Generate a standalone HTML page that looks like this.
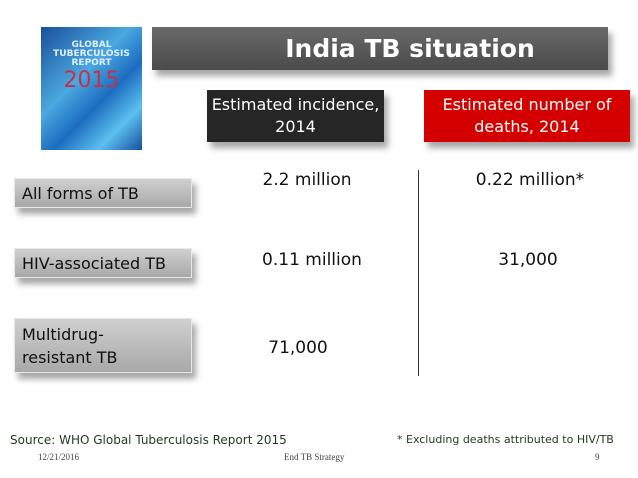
<!DOCTYPE html>
<html><head><meta charset="utf-8"><style>
body{margin:0;width:638px;height:478px;background:#fff;position:relative;overflow:hidden;font-family:"DejaVu Sans","Liberation Sans",sans-serif}
div{position:absolute;box-sizing:border-box}
.lbl{left:14px;width:178px;background:linear-gradient(#d0d0d0,#a8a8a8);border:1px solid #e8e8e8;box-shadow:4px 6px 6px rgba(0,0,0,.35);color:#111;font-size:16px;padding-left:7px;display:flex;align-items:center;line-height:23px}
.val{font-size:17px;color:#111;text-align:center;width:200px}
.ft{font-family:"Liberation Serif",serif;font-size:9px;color:#444;top:452px}
</style></head><body>
<div style="left:41px;top:27px;width:101px;height:123px;background:linear-gradient(135deg,#1a4f9a,#4aa8e0 40%,#1c6cc0 60%,#5bc0ef 80%,#1650a0);color:#dfefff;text-align:center;font-size:9px;line-height:9px;padding-top:14px;font-weight:bold">GLOBAL<br>TUBERCULOSIS<br>REPORT<div style="position:static;color:#c8304a;font-size:22px;line-height:26px;font-weight:normal">2015</div></div>
<div style="left:152px;top:27px;width:456px;height:43px;background:linear-gradient(#6a6a6a,#4a4a4a);box-shadow:4px 6px 6px rgba(0,0,0,.35);color:#fff;font-weight:bold;font-size:25px;text-align:center;line-height:43px;padding-left:60px">India TB situation</div>
<div style="left:207px;top:90px;width:177px;height:52px;background:#262626;box-shadow:4px 6px 6px rgba(0,0,0,.35);color:#fff;font-size:16px;text-align:center;line-height:22px;padding-top:4px">Estimated incidence,<br>2014</div>
<div style="left:424px;top:90px;width:206px;height:52px;background:#d40000;box-shadow:4px 6px 6px rgba(0,0,0,.35);color:#fff;font-size:16px;text-align:center;line-height:22px;padding-top:4px">Estimated number of<br>deaths, 2014</div>
<div class="lbl" style="top:178px;height:30px">All forms of TB</div>
<div class="lbl" style="top:248px;height:30px">HIV-associated TB</div>
<div class="lbl" style="top:318px;height:55px">Multidrug-<br>resistant TB</div>
<div style="left:418px;top:170px;width:1px;height:206px;background:#333"></div>
<div class="val" style="left:207px;top:170px">2.2 million</div>
<div class="val" style="left:430px;top:170px">0.22 million*</div>
<div class="val" style="left:212px;top:250px">0.11 million</div>
<div class="val" style="left:428px;top:250px">31,000</div>
<div class="val" style="left:198px;top:338px">71,000</div>
<div style="left:10px;top:433px;font-size:12px;color:#1f3a1f">Source: WHO Global Tuberculosis Report 2015</div>
<div style="left:397px;top:433px;font-size:11px;color:#1f3a1f">* Excluding deaths attributed to HIV/TB</div>
<div class="ft" style="left:38px">12/21/2016</div>
<div class="ft" style="left:284px">End TB Strategy</div>
<div class="ft" style="left:595px">9</div>
</body></html>
